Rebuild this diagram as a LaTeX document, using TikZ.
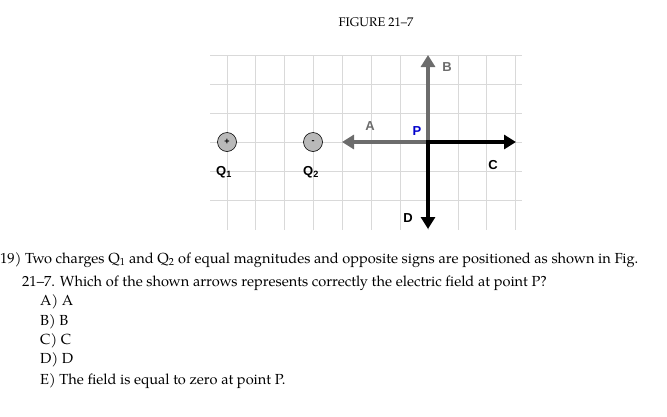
\documentclass[tikz,border=0pt]{standalone}
\usetikzlibrary{arrows.meta}
\usepackage{fontspec}
\setmainfont{TeX Gyre Pagella}
\newfontfamily\lab{Liberation Sans}
\begin{document}
\begin{tikzpicture}[x=1pt,y=-1pt,
  grd/.style={gray!30,line width=0.8pt},
  arr/.style={line width=4pt,-{Triangle[length=12pt,width=14pt]}},
  chg/.style={circle,draw=black,line width=0.6pt,minimum size=19pt,inner sep=0pt,fill=gray!55,font=\lab\bfseries\small},
  lbl/.style={font=\lab\bfseries\fontsize{13}{13}\selectfont},
  txt/.style={anchor=west,font=\fontsize{14.6}{16}\selectfont,inner sep=0pt}]
\useasboundingbox (0,0) rectangle (667,416);
\foreach \x in {227,255,284,313,342,371,400,428,458,486,515} \draw[grd] (\x,55) -- (\x,230);
\foreach \y in {55,84,113,142,171,200} \draw[grd] (210,\y) -- (522,\y);
\node (t) at (376,22) {\fontsize{12.5}{12}\selectfont FIGURE 21--7};
\node[chg] (q1) at (227,142) {+};
\node[chg] (q2) at (313,142) {-};
\node[lbl] (l1) at (224,172) {Q\textsubscript{1}};
\node[lbl] (l2) at (311,172) {Q\textsubscript{2}};
\coordinate (P) at (428,142);
\coordinate (a) at (342,142);
\coordinate (b) at (428,55);
\coordinate (c) at (516,142);
\coordinate (d) at (428,229);
\draw[arr,gray!85!black] (P) -- (a);
\draw[arr,gray!85!black] (P) -- (b);
\draw[arr,black] ([xshift=-2pt]P) -- (c);
\draw[arr,black] ([yshift=-2pt]P) -- (d);
\node[lbl,gray!85!black] (la) at (370,126) {A};
\node[lbl,gray!85!black] (lb) at (447,67) {B};
\node[lbl,black] (lc) at (493,165) {C};
\node[lbl,black] (ld) at (408,218) {D};
\node[lbl,blue!80!black] (lp) at (417,131) {P};
\node[txt] (s1) at (0,260) {19) Two charges Q\textsubscript{1} and Q\textsubscript{2} of equal magnitudes and opposite signs are positioned as shown in Fig.};
\node[txt] (s2) at (22,283) {21--7. Which of the shown arrows represents correctly the electric field at point P?};
\node[txt] (o1) at (40,302) {A) A};
\node[txt] (o2) at (40,322) {B) B};
\node[txt] (o3) at (40,341) {C) C};
\node[txt] (o4) at (40,360) {D) D};
\node[txt] (o5) at (40,381) {E) The field is equal to zero at point P.};
\end{tikzpicture}
\end{document}
